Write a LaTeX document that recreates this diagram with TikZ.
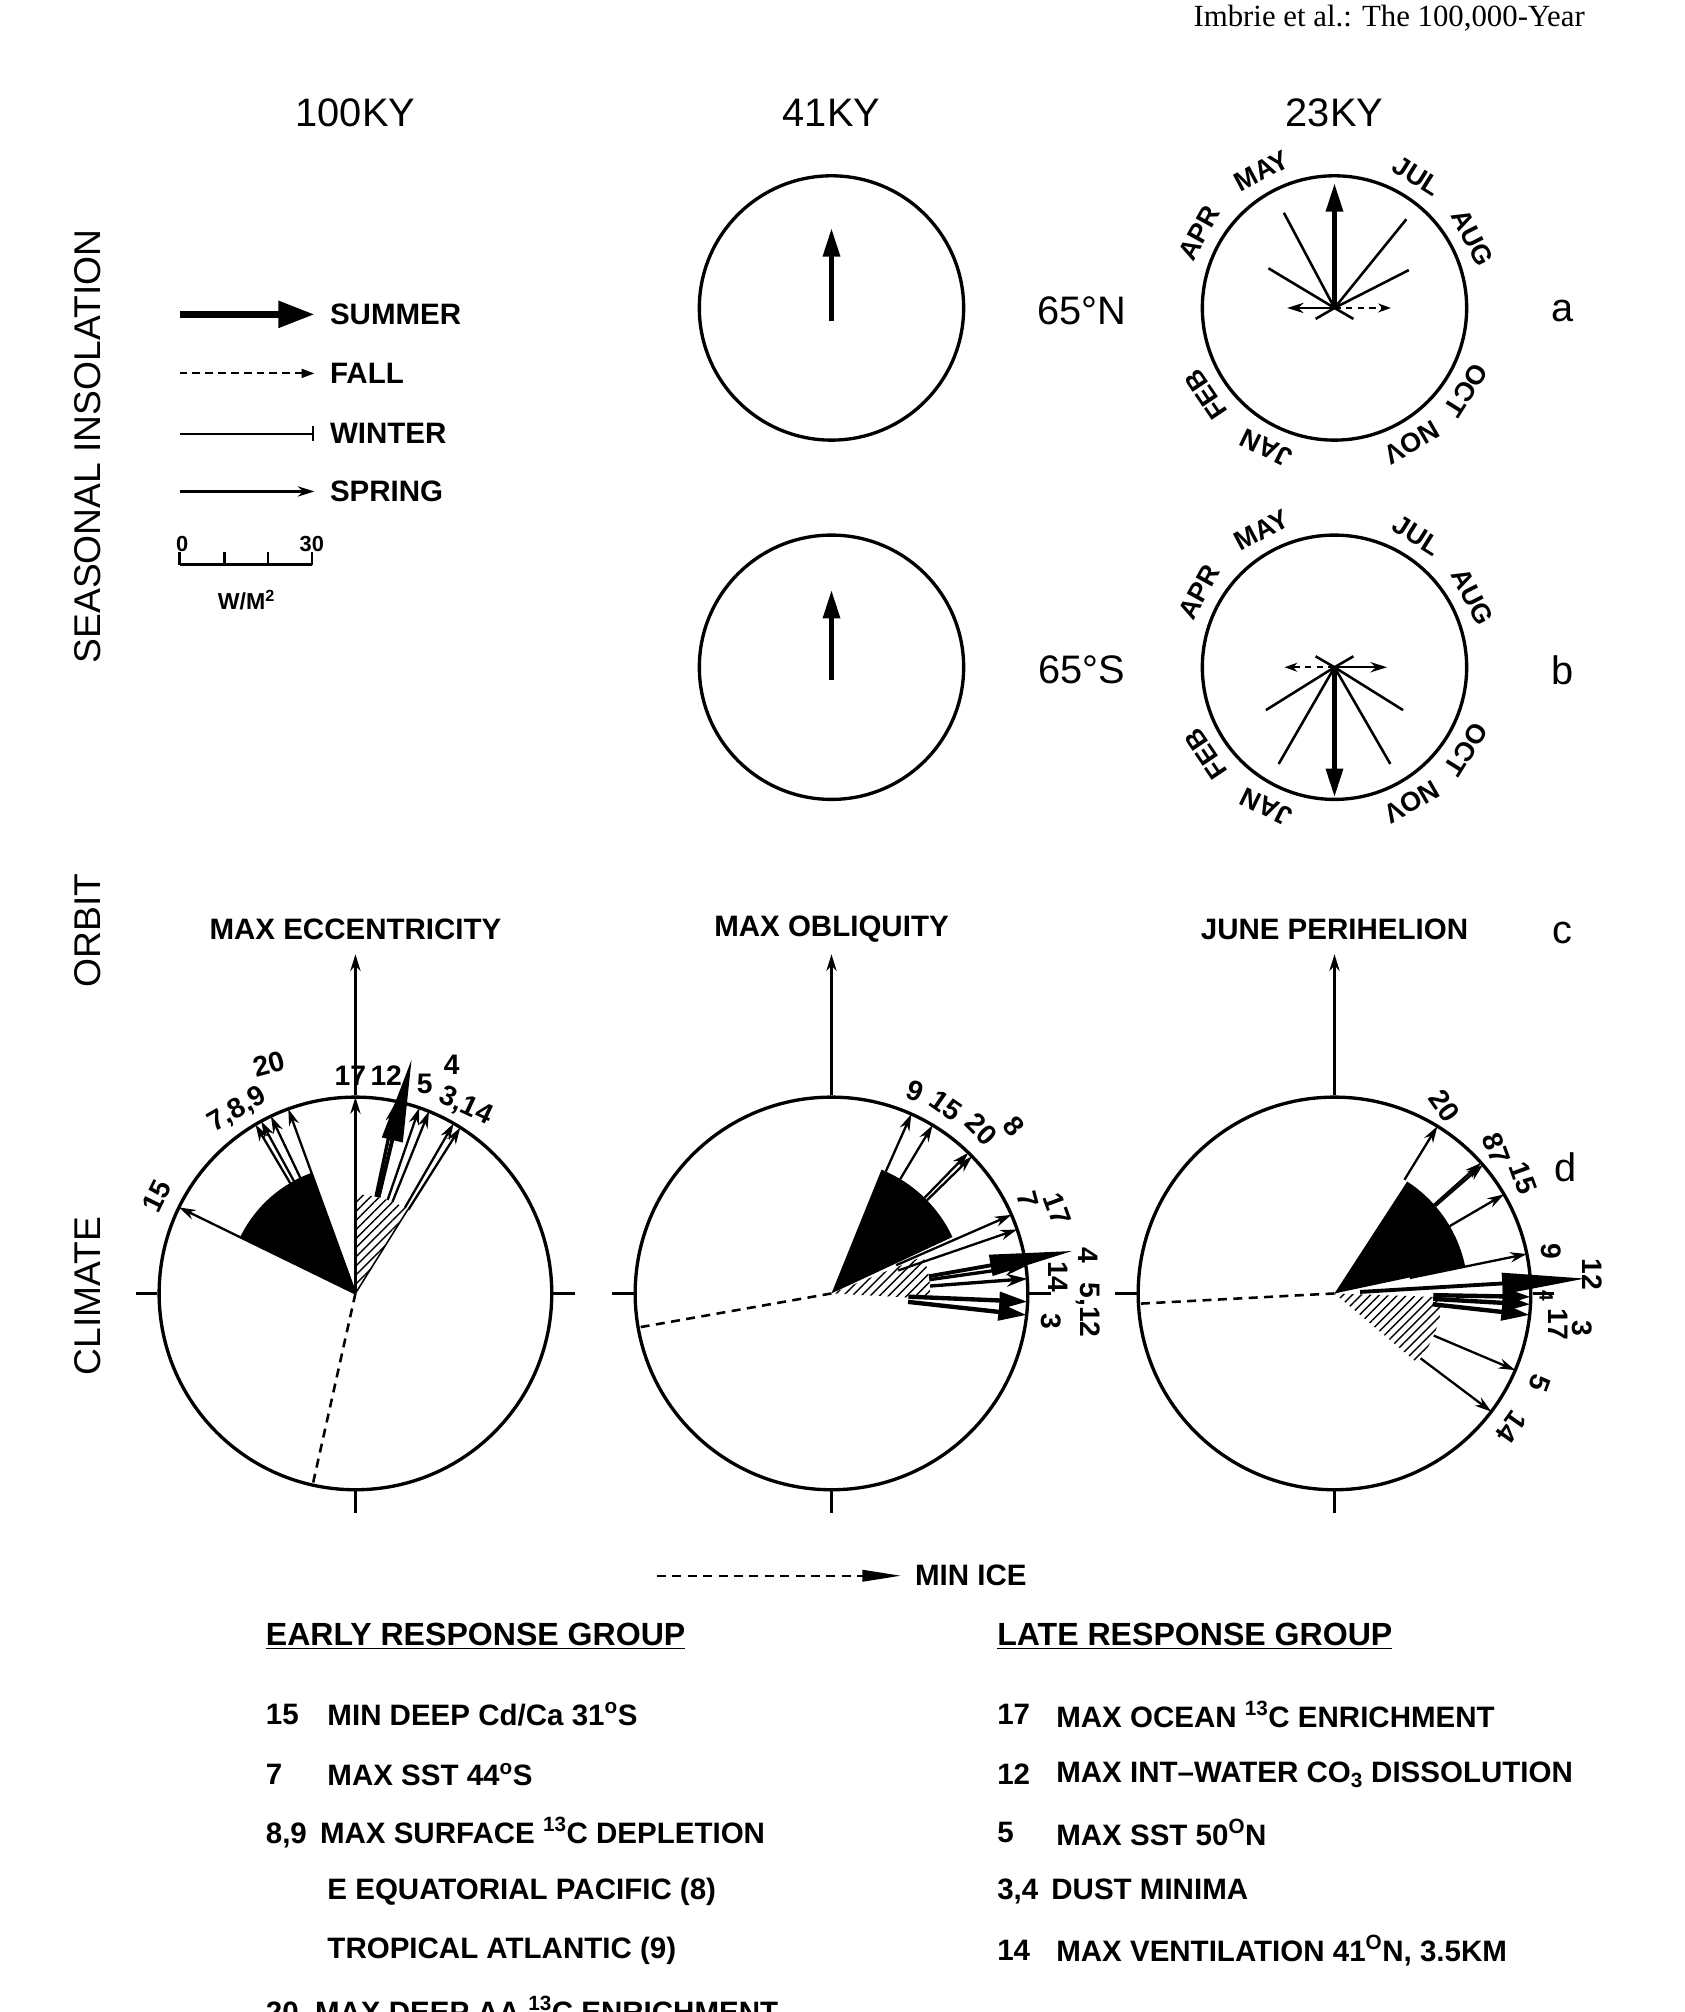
\documentclass[tikz,border=0pt]{standalone}
\usepackage{fontspec}
\setmainfont{Liberation Sans}
\newfontfamily\serifhead{Liberation Serif}
\usetikzlibrary{arrows.meta,calc,patterns.meta}
\tikzset{
  lab/.style={font=\bfseries\fontsize{23}{23}\selectfont,inner sep=0},
  mon/.style={font=\bfseries\fontsize{21}{21}\selectfont,inner sep=0},
  num/.style={font=\bfseries\fontsize{22}{22}\selectfont,inner sep=0},
  ttl/.style={font=\fontsize{31}{31}\selectfont,inner sep=0},
  side/.style={font=\fontsize{29}{29}\selectfont,inner sep=0,rotate=90},
  ring/.style={circle,draw,line width=2.6pt,inner sep=0},
  thin/.style={line width=1.8pt,-{Stealth[length=13pt,width=8pt]}},
  mid/.style={line width=2.6pt,-{Stealth[length=16pt,width=10pt]}},
  fat/.style={line width=3.4pt,-{Triangle[length=22pt,width=13pt]}},
  big/.style={line width=3pt,-{Triangle[length=65pt,width=16pt]}},
  plain/.style={line width=2pt},
  dsh/.style={line width=2pt,dash pattern=on 7pt off 5pt},
}
\newcommand{\ray}[5][thin]{\draw[#1] ($(#2)+(#3:#4)$) -- ($(#2)+(#3:#5)$);}
\begin{document}
\begin{tikzpicture}[x=1pt,y=1pt]
\useasboundingbox (0,0) rectangle (1313,-1568);
\fill[white] (0,0) rectangle (1313,-1568);
\node[anchor=west,font=\serifhead\fontsize{24}{24}\selectfont,inner sep=0] (hdr) at (930,-14) {Imbrie et al.: The 100,000-Year};
% titles
\node[ttl] (t1) at (277,-88) {100KY};
\node[ttl] (t2) at (648,-88) {41KY};
\node[ttl] (t3) at (1040,-88) {23KY};
\node[side] (s1) at (68,-348) {SEASONAL INSOLATION};
\node[side] (s2) at (68,-725) {ORBIT};
\node[side] (s3) at (68,-1010) {CLIMATE};
% legend
\coordinate (l1a) at (140,-245); \coordinate (l1b) at (245,-245);
\draw[line width=5pt,-{Triangle[length=28pt,width=20pt]}] (l1a) -- (l1b);
\node[lab,anchor=west] (ls) at (257,-245) {SUMMER};
\coordinate (l2a) at (140,-291); \coordinate (l2b) at (245,-291);
\draw[line width=1.5pt,dash pattern=on 6pt off 4pt,-{Triangle[length=10pt,width=7pt]}] (l2a) -- (l2b);
\node[lab,anchor=west] (lf) at (257,-291) {FALL};
\coordinate (l3a) at (140,-338); \coordinate (l3b) at (245,-338);
\draw[line width=1.8pt,-{Bar[width=12pt]}] (l3a) -- (l3b);
\node[lab,anchor=west] (lw) at (257,-338) {WINTER};
\coordinate (l4a) at (140,-383); \coordinate (l4b) at (245,-383);
\draw[thin] (l4a) -- (l4b);
\node[lab,anchor=west] (lp) at (257,-383) {SPRING};
\coordinate (sa) at (140,-440); \coordinate (sb) at (243,-440);
\draw[line width=1.8pt] (sa) -- (sb);
\foreach \x in {140,175,209,243} \draw[line width=1.8pt] (\x,-440) -- (\x,-430);
\node[font=\bfseries\fontsize{17}{17}\selectfont,inner sep=0] (s0) at (142,-424) {0};
\node[font=\bfseries\fontsize{17}{17}\selectfont,inner sep=0] (s30) at (243,-424) {30};
\node[font=\bfseries\fontsize{18}{18}\selectfont,inner sep=0] (swm) at (192,-468) {W/M\textsuperscript{2}};
% 41KY insolation
\node[ring,minimum size=206pt] (o1) at (648,-240) {};
\node[ring,minimum size=206pt] (o2) at (648,-520) {};
\ray[fat]{o1}{90}{-10}{62}
\ray[fat]{o2}{90}{-10}{60}
\node[ttl] (n65) at (843,-242) {65\textdegree N};
\node[ttl] (s65) at (843,-522) {65\textdegree S};
\node[ttl] (la) at (1218,-242) {a};
\node[ttl] (lb) at (1218,-522) {b};
% 23KY insolation
\node[ring,minimum size=206pt] (u1) at (1040,-240) {};
\node[ring,minimum size=206pt] (u2) at (1040,-520) {};
\foreach \u in {u1,u2}{
  \foreach \a/\t in {151/APR,118/MAY,58/JUL,27/AUG,-146/FEB,-116/JAN,-60/NOV,-32/OCT}
    \node[mon,rotate=\a-90] at ($(\u)+(\a:121)$) {\t};
}
\ray[fat]{u1}{90}{0}{97}
\ray[plain]{u1}{118}{0}{84}
\ray[plain]{u1}{149}{0}{60}
\ray[plain]{u1}{51}{0}{89}
\ray[plain]{u1}{27}{0}{65}
\ray[thin]{u1}{180}{0}{37}
\draw[line width=1.8pt,dash pattern=on 5pt off 4pt,-{Stealth[length=10pt,width=7pt]}] (u1.center) -- ($(u1)+(0:44)$);
\ray[plain]{u1}{-150}{0}{17}
\ray[plain]{u1}{-30}{0}{17}
\ray[fat]{u2}{-90}{0}{101}
\ray[plain]{u2}{-120}{0}{87}
\ray[plain]{u2}{-148}{0}{63}
\ray[plain]{u2}{-60}{0}{87}
\ray[plain]{u2}{-32}{0}{63}
\ray[thin]{u2}{0}{0}{41}
\draw[line width=1.8pt,dash pattern=on 5pt off 4pt,-{Stealth[length=10pt,width=7pt]}] (u2.center) -- ($(u2)+(180:39)$);
\ray[plain]{u2}{150}{0}{17}
\ray[plain]{u2}{30}{0}{17}
% orbit titles
\node[lab] (m1) at (277,-724) {MAX ECCENTRICITY};
\node[lab] (m2) at (648,-724) {MAX OBLIQUITY};
\node[lab] (m3) at (1040,-724) {JUNE PERIHELION};
\node[ttl] (lc) at (1218,-727) {c};
\node[ttl] (ld) at (1220,-910) {d};
% climate circles
\foreach \n/\x in {c1/277,c2/648,c3/1040}{
  \node[ring,minimum size=306pt] (\n) at (\x,-1008) {};
  \draw[thin,line width=2pt] (\n.north) -- ++(0,110);
  \draw[plain] (\n.west) -- ++(-17,0);
  \draw[plain] (\n.east) -- ++(17,0);
  \draw[plain] (\n.south) -- ++(0,-17);
}
% circle 1
\fill (c1.center) -- ($(c1)+(154:100)$) arc[start angle=154,end angle=110,radius=100] -- cycle;
\fill[pattern={Lines[angle=45,distance=5pt,line width=1.1pt]}] (c1.center) -- ($(c1)+(90:77)$) arc[start angle=90,end angle=58,radius=77] -- cycle;
\draw[line width=1.2pt] (c1.center) -- ($(c1)+(58:77)$);
\ray{c1}{154}{0}{153}
\foreach \a in {120.6,118.7,115.5} {\ray{c1}{\a}{95}{153}}
\ray{c1}{110}{0}{153}
\ray{c1}{90}{0}{153}
\ray[mid]{c1}{78}{77}{153}
\ray[big]{c1}{76.5}{77}{188}
\foreach \a in {71,68,60,57.7} {\ray{c1}{\a}{77}{153}}
\draw[dsh] (c1.center) -- ($(c1)+(-102.6:153)$);
\node[num,rotate=64] at (122,-932) {15};
\node[num,rotate=30] at (185,-865) {7,8,9};
\node[num,rotate=15] at (210,-829) {20};
\node[num] at (273,-838) {17};
\node[num] at (301,-838) {12};
\node[num] at (331,-845) {5};
\node[num] at (352,-830) {4};
\node[num,rotate=-25] at (363,-862) {3,14};
% circle 2
\fill (c2.center) -- ($(c2)+(68:104)$) arc[start angle=68,end angle=25,radius=104] -- cycle;
\fill[white] (c2.center) -- ($(c2)+(-3:77)$) arc[start angle=-3,end angle=22,radius=77] -- cycle;
\fill[pattern={Lines[angle=45,distance=5pt,line width=1.1pt]}] (c2.center) -- ($(c2)+(-3:77)$) arc[start angle=-3,end angle=22,radius=77] -- cycle;
\foreach \a in {66,59,45.8,44.3} {\ray{c2}{\a}{104}{153}}
\ray{c2}{23.6}{55}{153}
\ray{c2}{19}{55}{153}
\ray[big]{c2}{10}{77}{191}
\ray[mid]{c2}{8}{77}{153}
\ray[mid]{c2}{4.3}{77}{153}
\ray[fat]{c2}{-2.4}{60}{153}
\ray[fat]{c2}{-6.3}{60}{153}
\draw[dsh] (c2.center) -- ($(c2)+(190:153)$);
\node[num,rotate=-20] at (713,-850) {9};
\node[num,rotate=-35] at (737,-862) {15};
\node[num,rotate=-45] at (765,-880) {20};
\node[num,rotate=-50] at (790,-878) {8};
\node[num,rotate=-75] at (801,-935) {7};
\node[num,rotate=-70] at (824,-942) {17};
\node[num,rotate=-90] at (848,-978) {4};
\node[num,rotate=-90] at (825,-995) {14};
\node[num,rotate=-90] at (848,-1021) {5,12};
\node[num,rotate=-90] at (819,-1030) {3};
% circle 3
\fill (c3.center) -- ($(c3)+(57:104)$) arc[start angle=57,end angle=12,radius=104] -- cycle;
\fill[pattern={Lines[angle=45,distance=5pt,line width=1.1pt]}] (c3.center) -- ($(c3)+(-2:84)$) arc[start angle=-2,end angle=-40,radius=84] -- cycle;
\ray{c3}{58.4}{104}{153}
\ray{c3}{41.7}{104}{153}
\ray{c3}{40.9}{104}{153}
\ray{c3}{30.3}{104}{153}
\ray{c3}{11.6}{60}{153}
\ray[big]{c3}{3.4}{20}{196}
\ray[fat]{c3}{-1}{77}{153}
\ray[fat]{c3}{-3.2}{77}{153}
\ray[fat]{c3}{-6.3}{77}{153}
\ray{c3}{-23}{84}{153}
\ray{c3}{-37}{84}{153}
\draw[dsh] (c3.center) -- ($(c3)+(183:153)$);
\node[num,rotate=-55] at (1126,-862) {20};
\node[num,rotate=-70] at (1166,-895) {87};
\node[num,rotate=-70] at (1187,-918) {15};
\node[num,rotate=-90] at (1209,-975) {9};
\node[num,rotate=-90] at (1241,-993) {12};
\node[num,rotate=-90,font=\bfseries\fontsize{15}{15}\selectfont] at (1205,-1010) {4};
\node[num,rotate=-90] at (1214,-1032) {17};
\node[num,rotate=-90] at (1233,-1035) {3};
\node[num,rotate=-110] at (1200,-1078) {5};
\node[num,rotate=-125] at (1178,-1112) {14};
% min ice
\coordinate (mi1) at (512,-1228); \coordinate (mi2) at (702,-1228);
\draw[line width=1.5pt,dash pattern=on 7pt off 5pt,-{Triangle[length=30pt,width=9pt]}] (mi1) -- (mi2);
\node[lab,anchor=west] (mit) at (713,-1228) {MIN ICE};
% lists
\node[lab,anchor=west,font=\bfseries\fontsize{25}{25}\selectfont] (eg) at (207,-1275) {\underline{EARLY RESPONSE GROUP}};
\node[lab,anchor=west,font=\bfseries\fontsize{25}{25}\selectfont] (lg) at (777,-1275) {\underline{LATE RESPONSE GROUP}};
\node[lab,anchor=west] (e1n) at (207,-1336) {15};
\node[lab,anchor=west] (e1) at (255,-1336) {MIN DEEP Cd/Ca 31\textsuperscript{o}S};
\node[lab,anchor=west] (e2n) at (207,-1383) {7};
\node[lab,anchor=west] (e2) at (255,-1383) {MAX SST 44\textsuperscript{o}S};
\node[lab,anchor=west] (e3) at (207,-1428) {8,9\, MAX SURFACE \textsuperscript{13}C DEPLETION};
\node[lab,anchor=west] (e4) at (255,-1474) {E EQUATORIAL PACIFIC (8)};
\node[lab,anchor=west] (e5) at (255,-1520) {TROPICAL ATLANTIC (9)};
\node[lab,anchor=west] (e6) at (207,-1566) {20\ \ MAX DEEP AA \textsuperscript{13}C ENRICHMENT};
\node[lab,anchor=west] at (777,-1336) {17};
\node[lab,anchor=west] at (823,-1336) {MAX OCEAN \textsuperscript{13}C ENRICHMENT};
\node[lab,anchor=west] at (777,-1383) {12};
\node[lab,anchor=west] at (823,-1383) {MAX INT--WATER CO\textsubscript{3} DISSOLUTION};
\node[lab,anchor=west] at (777,-1428) {5};
\node[lab,anchor=west] at (823,-1428) {MAX SST 50\textsuperscript{O}N};
\node[lab,anchor=west] at (777,-1474) {3,4\, DUST MINIMA};
\node[lab,anchor=west] at (777,-1520) {14};
\node[lab,anchor=west] at (823,-1520) {MAX VENTILATION 41\textsuperscript{O}N, 3.5KM};
\end{tikzpicture}
\end{document}
